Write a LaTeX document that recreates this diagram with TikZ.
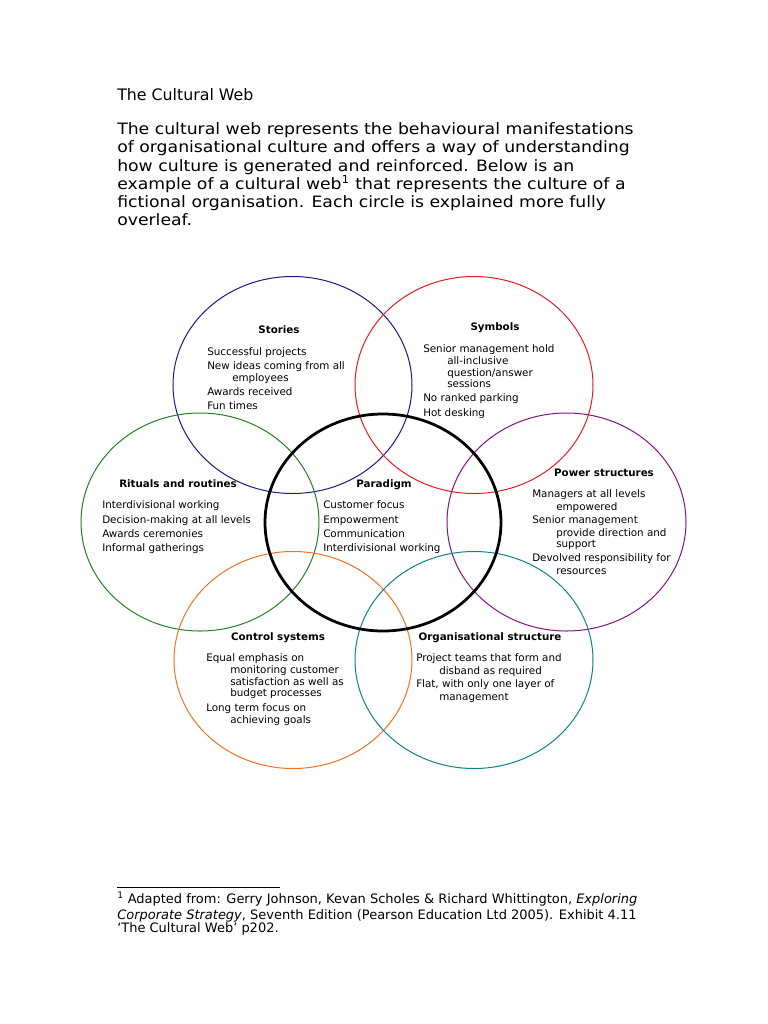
\documentclass[tikz,border=0pt]{standalone}
\usepackage{fontspec}
\setmainfont{DejaVu Sans}
\newfontfamily\parafont[FakeStretch=1.1]{DejaVu Sans}
\definecolor{cnavy}{RGB}{25,25,135}
\definecolor{cred}{RGB}{235,25,35}
\definecolor{cgreen}{RGB}{35,130,40}
\definecolor{cpurple}{RGB}{130,20,135}
\definecolor{corange}{RGB}{240,115,35}
\definecolor{cteal}{RGB}{15,130,135}
\begin{document}
\begin{tikzpicture}[x=0.797pt,y=-0.797pt,
  head/.style={anchor=mid west,inner sep=0pt,font=\fontsize{12.6}{14}\selectfont},
  body/.style={anchor=mid west,inner sep=0pt,font=\parafont\fontsize{12.5}{15}\selectfont},
  foot/.style={anchor=mid west,inner sep=0pt,font=\fontsize{10.35}{12}\selectfont},
  lbl/.style={anchor=mid west,inner sep=0pt,font=\fontsize{8.25}{10}\selectfont},
  ttl/.style={anchor=mid,inner sep=0pt,font=\fontsize{8.2}{10}\selectfont\bfseries},
  ring/.style={line width=0.8pt},
  core/.style={line width=2.2pt,black}]
\useasboundingbox[fill=white] (0,0) rectangle (768,1024);

% title and paragraph
\node[head] (t0) at (117,97) {The Cultural Web};
\node[body] (p1) at (117,131) {The cultural web represents the behavioural manifestations};
\node[body] (p2) at (117,149) {of organisational culture and offers a way of understanding};
\node[body] (p3) at (117,168) {how culture is generated and reinforced. Below is an};
\node[body] (p4) at (117,186) {example of a cultural web\textsuperscript{1} that represents the culture of a};
\node[body] (p5) at (117,204) {fictional organisation. Each circle is explained more fully};
\node[body] (p6) at (117,222) {overleaf.};

% circles
\coordinate (cS) at (292.5,385);
\coordinate (cY) at (474,385);
\coordinate (cR) at (200,522);
\coordinate (cP) at (383,522.5);
\coordinate (cW) at (566.5,522);
\coordinate (cC) at (293,660);
\coordinate (cO) at (474,660);
\draw[ring,cnavy] (cS) ellipse [x radius=119.5,y radius=108.5];
\draw[ring,cred] (cY) ellipse [x radius=119,y radius=108.5];
\draw[ring,cgreen] (cR) ellipse [x radius=119,y radius=109];
\draw[ring,cpurple] (cW) ellipse [x radius=119.5,y radius=109];
\draw[ring,corange] (cC) ellipse [x radius=119,y radius=108.5];
\draw[ring,cteal] (cO) ellipse [x radius=119,y radius=108.5];
\draw[core] (cP) ellipse [x radius=118,y radius=108.5];

% Stories
\node[ttl] (sT) at (279,330) {Stories};
\node[lbl] (s1) at (207,352) {Successful projects};
\node[lbl] (s2) at (207,366) {New ideas coming from all};
\node[lbl] (s3) at (232,378) {employees};
\node[lbl] (s4) at (207,392) {Awards received};
\node[lbl] (s5) at (207,406) {Fun times};

% Symbols
\node[ttl] (yT) at (495,327) {Symbols};
\node[lbl] (y1) at (423,349) {Senior management hold};
\node[lbl] (y2) at (447,361) {all-inclusive};
\node[lbl] (y3) at (447,373) {question/answer};
\node[lbl] (y4) at (447,384) {sessions};
\node[lbl] (y5) at (423,398) {No ranked parking};
\node[lbl] (y6) at (423,413) {Hot desking};

% Rituals
\node[ttl] (rT) at (178,484) {Rituals and routines};
\node[lbl] (r1) at (102,505) {Interdivisional working};
\node[lbl] (r2) at (102,520) {Decision-making at all levels};
\node[lbl] (r3) at (102,534) {Awards ceremonies};
\node[lbl] (r4) at (102,548) {Informal gatherings};

% Paradigm
\node[ttl] (pT) at (384,484) {Paradigm};
\node[lbl] (q1) at (323,505) {Customer focus};
\node[lbl] (q2) at (323,520) {Empowerment};
\node[lbl] (q3) at (323,534) {Communication};
\node[lbl] (q4) at (323,548) {Interdivisional working};

% Power structures
\node[ttl] (wT) at (604,473) {Power structures};
\node[lbl] (w1) at (532,494) {Managers at all levels};
\node[lbl] (w2) at (556,507) {empowered};
\node[lbl] (w3) at (532,520) {Senior management};
\node[lbl] (w4) at (556,533) {provide direction and};
\node[lbl] (w5) at (556,544) {support};
\node[lbl] (w6) at (532,558) {Devolved responsibility for};
\node[lbl] (w7) at (556,571) {resources};

% Control systems
\node[ttl] (cT) at (278,637) {Control systems};
\node[lbl] (c1) at (206,658) {Equal emphasis on};
\node[lbl] (c2) at (230,670) {monitoring customer};
\node[lbl] (c3) at (230,682) {satisfaction as well as};
\node[lbl] (c4) at (230,693) {budget processes};
\node[lbl] (c5) at (206,708) {Long term focus on};
\node[lbl] (c6) at (230,720) {achieving goals};

% Organisational structure
\node[ttl] (oT) at (490,637) {Organisational structure};
\node[lbl] (o1) at (416,658) {Project teams that form and};
\node[lbl] (o2) at (439,671) {disband as required};
\node[lbl] (o3) at (416,684) {Flat, with only one layer of};
\node[lbl] (o4) at (439,697) {management};

% footnote
\coordinate (fa) at (117,887);
\coordinate (fb) at (280,887);
\draw[line width=0.8pt] (fa) -- (fb);
\node[foot] (f1) at (117,900) {\textsuperscript{1} Adapted from: Gerry Johnson, Kevan Scholes \& Richard Whittington, \textit{Exploring}};
\node[foot] (f2) at (117,916) {\textit{Corporate Strategy}, Seventh Edition (Pearson Education Ltd 2005). Exhibit 4.11};
\node[foot] (f3) at (117,929) {`The Cultural Web' p202.};
\end{tikzpicture}
\end{document}
